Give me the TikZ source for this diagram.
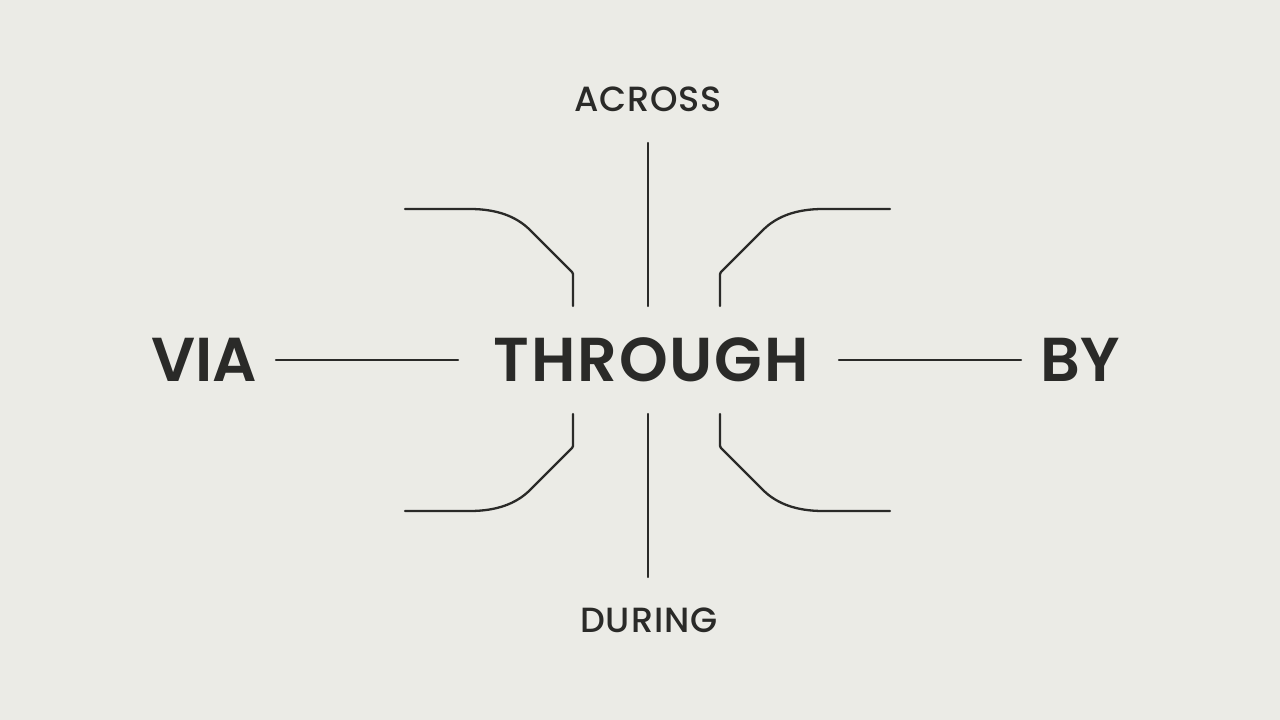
\documentclass[tikz,border=0pt]{standalone}
\usepackage{fontspec}
\setmainfont{Poppins}[UprightFont=* Medium, BoldFont=* SemiBold]
\definecolor{bg}{RGB}{235,235,230}
\definecolor{ink}{RGB}{42,42,40}
\begin{document}
\begin{tikzpicture}[x=1pt,y=-1pt,
  big/.style={font=\fontsize{62}{62}\selectfont\bfseries, text=ink, inner sep=0pt, anchor=center},
  small/.style={font=\fontsize{35}{35}\selectfont\addfontfeatures{LetterSpace=2}, text=ink, inner sep=0pt, anchor=center},
  ln/.style={draw=ink, line width=2.3pt, line cap=round, line join=round}]
\fill[bg] (0,0) rectangle (1280,720);
\useasboundingbox (0,0) rectangle (1280,720);
\node[big, font=\fontsize{62}{62}\selectfont\bfseries\addfontfeatures{LetterSpace=3}] (through) at (651,360) {THROUGH};
\node[big] (via) at (204,360) {VIA};
\node[big] (by) at (1080,360) {BY};
\node[small] (across) at (648,99) {ACROSS};
\node[small, font=\fontsize{35}{35}\selectfont\addfontfeatures{LetterSpace=3}] (during) at (649,620) {DURING};
% straight connectors
\coordinate (l1) at (276,360); \coordinate (l2) at (458,360);
\coordinate (r1) at (839,360); \coordinate (r2) at (1021,360);
\coordinate (t1) at (648,143); \coordinate (t2) at (648,306);
\coordinate (b1) at (648,414); \coordinate (b2) at (648,577);
\draw[ln] (l1) -- (l2);
\draw[ln] (r1) -- (r2);
\draw[ln] (t1) -- (t2);
\draw[ln] (b1) -- (b2);
% brackets
\coordinate (tla) at (405,209); \coordinate (tlb) at (470,209); \coordinate (tlc) at (530,230); \coordinate (tld) at (572,272); \coordinate (tle) at (573,306);
\coordinate (tra) at (890,209); \coordinate (trb) at (823,209); \coordinate (trc) at (763,230); \coordinate (trd) at (721,272); \coordinate (tre) at (720,306);
\coordinate (bla) at (405,511); \coordinate (blb) at (470,511); \coordinate (blc) at (530,490); \coordinate (bld) at (572,448); \coordinate (ble) at (573,414);
\coordinate (bra) at (890,511); \coordinate (brb) at (823,511); \coordinate (brc) at (763,490); \coordinate (brd) at (721,448); \coordinate (bre) at (720,414);
\draw[ln] (tla) -- (tlb) .. controls +(26,0) and +(-14,-14) .. (tlc) -- (tld) .. controls +(1,1) and +(0,-2) .. (573,276) -- (tle);
\draw[ln] (tra) -- (trb) .. controls +(-26,0) and +(14,-14) .. (trc) -- (trd) .. controls +(-1,1) and +(0,-2) .. (720,276) -- (tre);
\draw[ln] (bla) -- (blb) .. controls +(26,0) and +(-14,14) .. (blc) -- (bld) .. controls +(1,-1) and +(0,2) .. (573,444) -- (ble);
\draw[ln] (bra) -- (brb) .. controls +(-26,0) and +(14,14) .. (brc) -- (brd) .. controls +(-1,-1) and +(0,2) .. (720,444) -- (bre);
\end{tikzpicture}
\end{document}
